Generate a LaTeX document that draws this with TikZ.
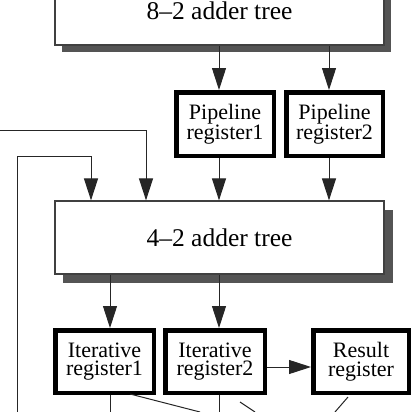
\documentclass[tikz,border=0pt]{standalone}
\usepackage{fontspec}
\setmainfont{Liberation Serif}
\usetikzlibrary{arrows.meta}
\tikzset{
  adder/.style={draw=black!75, line width=1.2pt, fill=white, inner sep=0pt,
    font=\fontsize{25.5}{30}\selectfont},
  reg/.style={draw=black, line width=4.5pt, fill=white, inner sep=0pt, align=center,
    font=\fontsize{22}{18.5}\selectfont},
  conn/.style={draw=black!85, line width=1pt},
  arr/.style={conn, -{Triangle[length=22pt,width=14pt]}},
  shadowc/.style={fill=black!67},
}
\begin{document}
\begin{tikzpicture}[x=1pt,y=-1pt]
\useasboundingbox (0,0) rectangle (412,412);
% shadows
\coordinate (s82a) at (62,-30);
\coordinate (s82b) at (391,52);
\coordinate (s42a) at (63,210);
\coordinate (s42b) at (393,283);
\fill[shadowc] (s82a) rectangle (s82b);
\fill[shadowc] (s42a) rectangle (s42b);
% adder trees
\node[adder, minimum width=329pt, minimum height=69pt] (a82) at (219.5,10.5) {8–2 adder tree};
\node[adder, minimum width=329pt, minimum height=73pt] (a42) at (219.5,237.5) {4–2 adder tree};
% registers
\node[reg, minimum width=97.5pt, minimum height=63.5pt] (p1) at (225,124) {Pipeline\\register1};
\node[reg, minimum width=96.5pt, minimum height=63.5pt] (p2) at (334.5,124) {Pipeline\\register2};
\node[reg, minimum width=98.5pt, minimum height=62.5pt] (i1) at (104.5,361.5) {Iterative\\register1};
\node[reg, minimum width=99.5pt, minimum height=62.5pt] (i2) at (215,361.5) {Iterative\\[-1pt]register2};
\node[reg, minimum width=95.5pt, minimum height=62.5pt] (r) at (361,361.5) {Result\\register};
% column coordinates
\coordinate (c1) at (219,0);
\coordinate (c2) at (329,0);
\coordinate (c3) at (110,0);
\coordinate (c4) at (146,0);
\coordinate (c5) at (91,0);
\coordinate (rowR) at (0,367);
% arrows
\draw[arr] (a82.south -| c1) -- (p1.north -| c1);
\draw[arr] (a82.south -| c2) -- (p2.north -| c2);
\draw[arr] (p1.south -| c1) -- (a42.north -| c1);
\draw[arr] (p2.south -| c2) -- (a42.north -| c2);
\draw[arr] (a42.south -| c3) -- (i1.north -| c3);
\draw[arr] (a42.south -| c1) -- (i2.north -| c1);
\draw[arr] (i2.east |- rowR) -- (r.west |- rowR);
% feedback lines
\coordinate (fbA) at (0,130);
\coordinate (fbB) at (17.7,412);
\coordinate (fbBy) at (0,156);
\draw[arr] (fbA) -| (a42.north -| c4);
\draw[arr] (fbB) |- (fbBy -| c5) -- (a42.north -| c5);
% bottom lines
\coordinate (b1) at (110,412);
\coordinate (b2) at (219,412);
\coordinate (b3s) at (130,394);
\coordinate (b3) at (200,412);
\coordinate (b4s) at (240,402);
\coordinate (b4) at (255,412);
\coordinate (b5s) at (348,397);
\coordinate (b5) at (335,412);
\draw[conn] (i1.south -| c3) -- (b1);
\draw[conn] (i2.south -| c1) -- (b2);
\draw[conn] (b3s) -- (b3);
\draw[conn] (b4s) -- (b4);
\draw[conn] (b5s) -- (b5);
\end{tikzpicture}
\end{document}
